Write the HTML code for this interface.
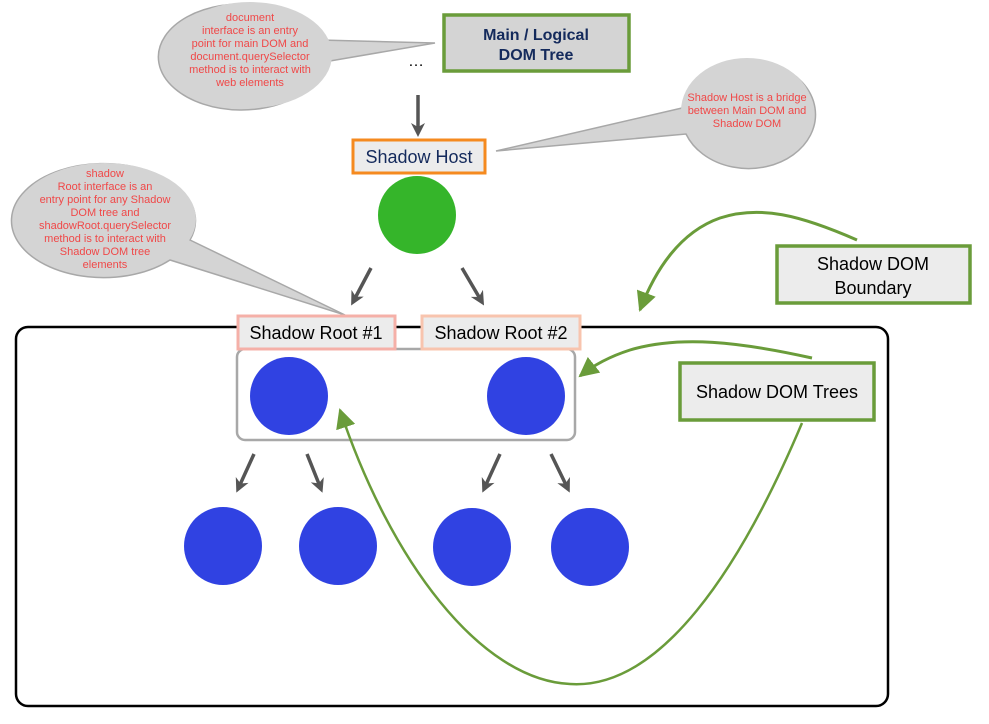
<!DOCTYPE html>
<html><head><meta charset="utf-8"><style>
html,body{margin:0;padding:0;background:#fff;}
svg{display:block;}
text{font-family:"Liberation Sans",sans-serif;}
.r{fill:#f04848;font-size:11px;text-anchor:middle;}
.b{fill:#000;font-size:18px;text-anchor:middle;}
</style></head><body>
<svg width="989" height="724" viewBox="0 0 989 724" xmlns="http://www.w3.org/2000/svg">
<defs>
<marker id="ga" markerWidth="14" markerHeight="14" refX="10" refY="7" orient="auto" markerUnits="userSpaceOnUse"><path d="M0,0 L14,7 L0,14 L4,7 Z" fill="#555"/></marker>
<marker id="gr" markerWidth="22" markerHeight="20" refX="18" refY="10" orient="auto" markerUnits="userSpaceOnUse"><path d="M0,0 L20,10 L0,20 Z" fill="#6a9c3a"/></marker>
</defs>
<!-- callout 1 -->
<path d="M320,40 L435,43 L324,62 A83,53 0 1 1 320,40 Z" fill="#d4d4d4" stroke="#a8a8a8" stroke-width="1.5"/>
<ellipse cx="250" cy="55" rx="82" ry="53" fill="#d4d4d4"/>
<text class="r"><tspan x="250" y="21">document</tspan><tspan x="250" y="34">interface is an entry</tspan><tspan x="250" y="47">point for main DOM and</tspan><tspan x="250" y="60">document.querySelector</tspan><tspan x="250" y="73">method is to interact with</tspan><tspan x="250" y="86">web elements</tspan></text>
<text x="416" y="66" font-size="16" text-anchor="middle">…</text>
<!-- main box -->
<rect x="444" y="15" width="185" height="56" fill="#d4d4d4" stroke="#6a9c3a" stroke-width="3.5"/>
<text x="536" y="40" font-size="16" font-weight="bold" fill="#142a5c" text-anchor="middle">Main / Logical</text>
<text x="536" y="60" font-size="16" font-weight="bold" fill="#142a5c" text-anchor="middle">DOM Tree</text>
<line x1="418" y1="95" x2="418" y2="133" stroke="#555" stroke-width="3.5" marker-end="url(#ga)"/>
<!-- callout 2 -->
<path d="M682,108 L496,151 L686,134 A67,54 0 1 0 682,108 Z" fill="#d4d4d4" stroke="#a8a8a8" stroke-width="1.5"/>
<ellipse cx="747" cy="111" rx="66" ry="53" fill="#d4d4d4"/>
<text class="r"><tspan x="747" y="101">Shadow Host is a bridge</tspan><tspan x="747" y="114">between Main DOM and</tspan><tspan x="747" y="127">Shadow DOM</tspan></text>
<!-- shadow host -->
<rect x="353" y="140" width="132" height="33" fill="#ececec" stroke="#f58a1f" stroke-width="3"/>
<text x="419" y="163" font-size="18" fill="#142a5c" text-anchor="middle">Shadow Host</text>
<circle cx="417" cy="215" r="39" fill="#35b52a"/>
<!-- callout 3 -->
<path d="M190,240 L345,315 L170,260 A92,57 0 1 1 190,240 Z" fill="#d4d4d4" stroke="#a8a8a8" stroke-width="1.5"/>
<ellipse cx="105" cy="219" rx="91" ry="56" fill="#d4d4d4"/>
<text class="r"><tspan x="105" y="177">shadow</tspan><tspan x="105" y="190">Root interface is an</tspan><tspan x="105" y="203">entry point for any Shadow</tspan><tspan x="105" y="216">DOM tree and</tspan><tspan x="105" y="229">shadowRoot.querySelector</tspan><tspan x="105" y="242">method is to interact with</tspan><tspan x="105" y="255">Shadow DOM tree</tspan><tspan x="105" y="268">elements</tspan></text>
<line x1="371" y1="268" x2="353" y2="302" stroke="#555" stroke-width="3.5" marker-end="url(#ga)"/>
<line x1="462" y1="268" x2="482" y2="302" stroke="#555" stroke-width="3.5" marker-end="url(#ga)"/>
<!-- big box -->
<rect x="16" y="327" width="872" height="379" rx="12" fill="none" stroke="#000" stroke-width="2.5"/>
<!-- inner -->
<rect x="237" y="349" width="338" height="91" rx="8" fill="#fff" stroke="#a8a8a8" stroke-width="2.5"/>
<rect x="238" y="316" width="157" height="33" fill="#ececec" stroke="#f5b0a8" stroke-width="3"/>
<text x="316" y="339" class="b">Shadow Root #1</text>
<rect x="422" y="316" width="158" height="33" fill="#ececec" stroke="#f8c4ae" stroke-width="3"/>
<text x="501" y="339" class="b">Shadow Root #2</text>
<circle cx="289" cy="396" r="39" fill="#3042e2"/>
<circle cx="526" cy="396" r="39" fill="#3042e2"/>
<line x1="254" y1="454" x2="238" y2="489" stroke="#555" stroke-width="3.5" marker-end="url(#ga)"/>
<line x1="307" y1="454" x2="321" y2="489" stroke="#555" stroke-width="3.5" marker-end="url(#ga)"/>
<line x1="500" y1="454" x2="484" y2="489" stroke="#555" stroke-width="3.5" marker-end="url(#ga)"/>
<line x1="551" y1="454" x2="568" y2="489" stroke="#555" stroke-width="3.5" marker-end="url(#ga)"/>
<circle cx="223" cy="546" r="39" fill="#3042e2"/>
<circle cx="338" cy="546" r="39" fill="#3042e2"/>
<circle cx="472" cy="547" r="39" fill="#3042e2"/>
<circle cx="590" cy="547" r="39" fill="#3042e2"/>
<!-- green boxes -->
<rect x="777" y="246" width="193" height="57" fill="#ececec" stroke="#6a9c3a" stroke-width="3.5"/>
<text x="873" y="270" class="b">Shadow DOM</text>
<text x="873" y="294" class="b">Boundary</text>
<rect x="680" y="363" width="194" height="57" fill="#ececec" stroke="#6a9c3a" stroke-width="3.5"/>
<text x="777" y="398" class="b">Shadow DOM Trees</text>
<!-- green curves -->
<path d="M857,240 C800,215 760,205 720,218 C680,232 655,270 640,310" fill="none" stroke="#6a9c3a" stroke-width="3" marker-end="url(#gr)"/>
<path d="M812,358 C740,342 680,335 630,350 C605,358 590,368 580,376" fill="none" stroke="#6a9c3a" stroke-width="3" marker-end="url(#gr)"/>
<path d="M802,423 C740,570 660,690 570,684 C480,680 390,560 340,410" fill="none" stroke="#6a9c3a" stroke-width="2.5" marker-end="url(#gr)"/>
</svg>
</body></html>
